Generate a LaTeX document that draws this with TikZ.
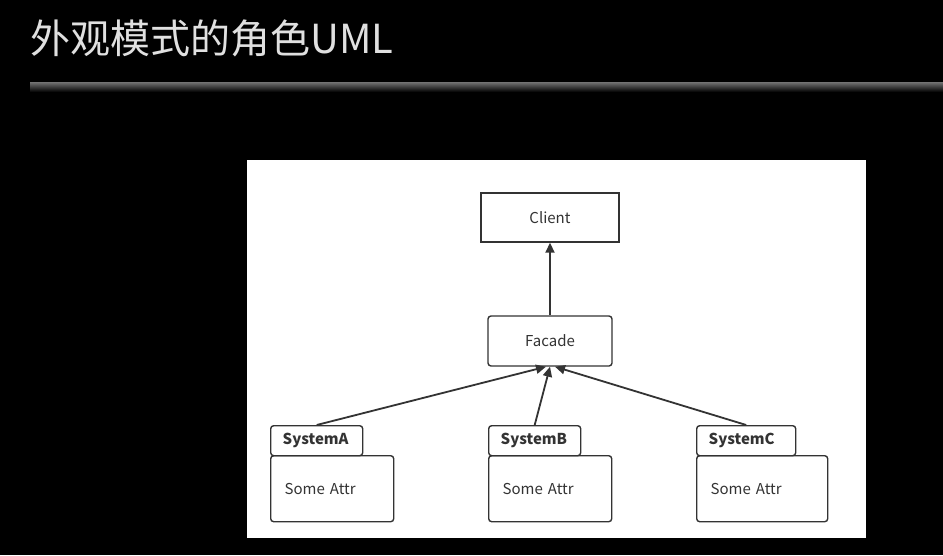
\documentclass[tikz,border=0pt]{standalone}
\usepackage{fontspec}
\setmainfont{Noto Sans CJK SC}
\newfontfamily\cjk{Noto Sans CJK SC}
\usetikzlibrary{arrows.meta,shadings}
\tikzset{
  box/.style={draw=black!80, line width=1.4pt, fill=white, inner sep=0pt, font=\fontsize{15}{15}\selectfont, text=black!80},
  tab/.style={box, rounded corners=3pt, anchor=north west, font=\fontsize{15}{15}\selectfont\bfseries},
  link/.style={draw=black!80, line width=1.8pt, -{Triangle[length=10pt,width=9pt]}}
}
\begin{document}
\begin{tikzpicture}[x=1pt,y=-1pt]
  \useasboundingbox[fill=black] (0,0) rectangle (943,555);
  % title and rule
  \node (title) [anchor=base west, inner sep=0pt, text=black!12, font=\cjk\fontsize{40}{40}\selectfont] at (30,53) {外观模式的角色UML};
  \shade[top color=black!55, bottom color=black] (30,82) rectangle (943,92);
  % panel
  \fill[white] (247,160) rectangle (866,538);
  % classes
  \node (client) [box, minimum width=138pt, minimum height=49pt] at (550,217.5) {Client};
  \node (facade) [box, rounded corners=3pt, minimum width=124pt, minimum height=50pt] at (550,341) {Facade};
  % packages
  \foreach \n/\x/\tw/\bw in {A/270/92/123, B/488/92/123, C/696/99/131}{
    \node (body\n) [box, rounded corners=3pt, anchor=north west, minimum width=\bw pt, minimum height=66pt, text width=\bw pt-28pt, align=left] at (\x,455) {Some Attr};
    \node (tab\n) [tab, minimum width=\tw pt, minimum height=30pt, text width=\tw pt-24pt, align=left] at (\x,425) {System\n};
  }
  \draw[box] (bodyA.north west) ++(1,0);
  % connectors
  \draw[link] (facade) -- (client);
  \draw[link] (tabA.north) -- ([xshift=-4pt]facade.south);
  \draw[link] (tabB.north) -- (facade.south);
  \draw[link] (tabC.north) -- ([xshift=5pt]facade.south);
\end{tikzpicture}
\end{document}
